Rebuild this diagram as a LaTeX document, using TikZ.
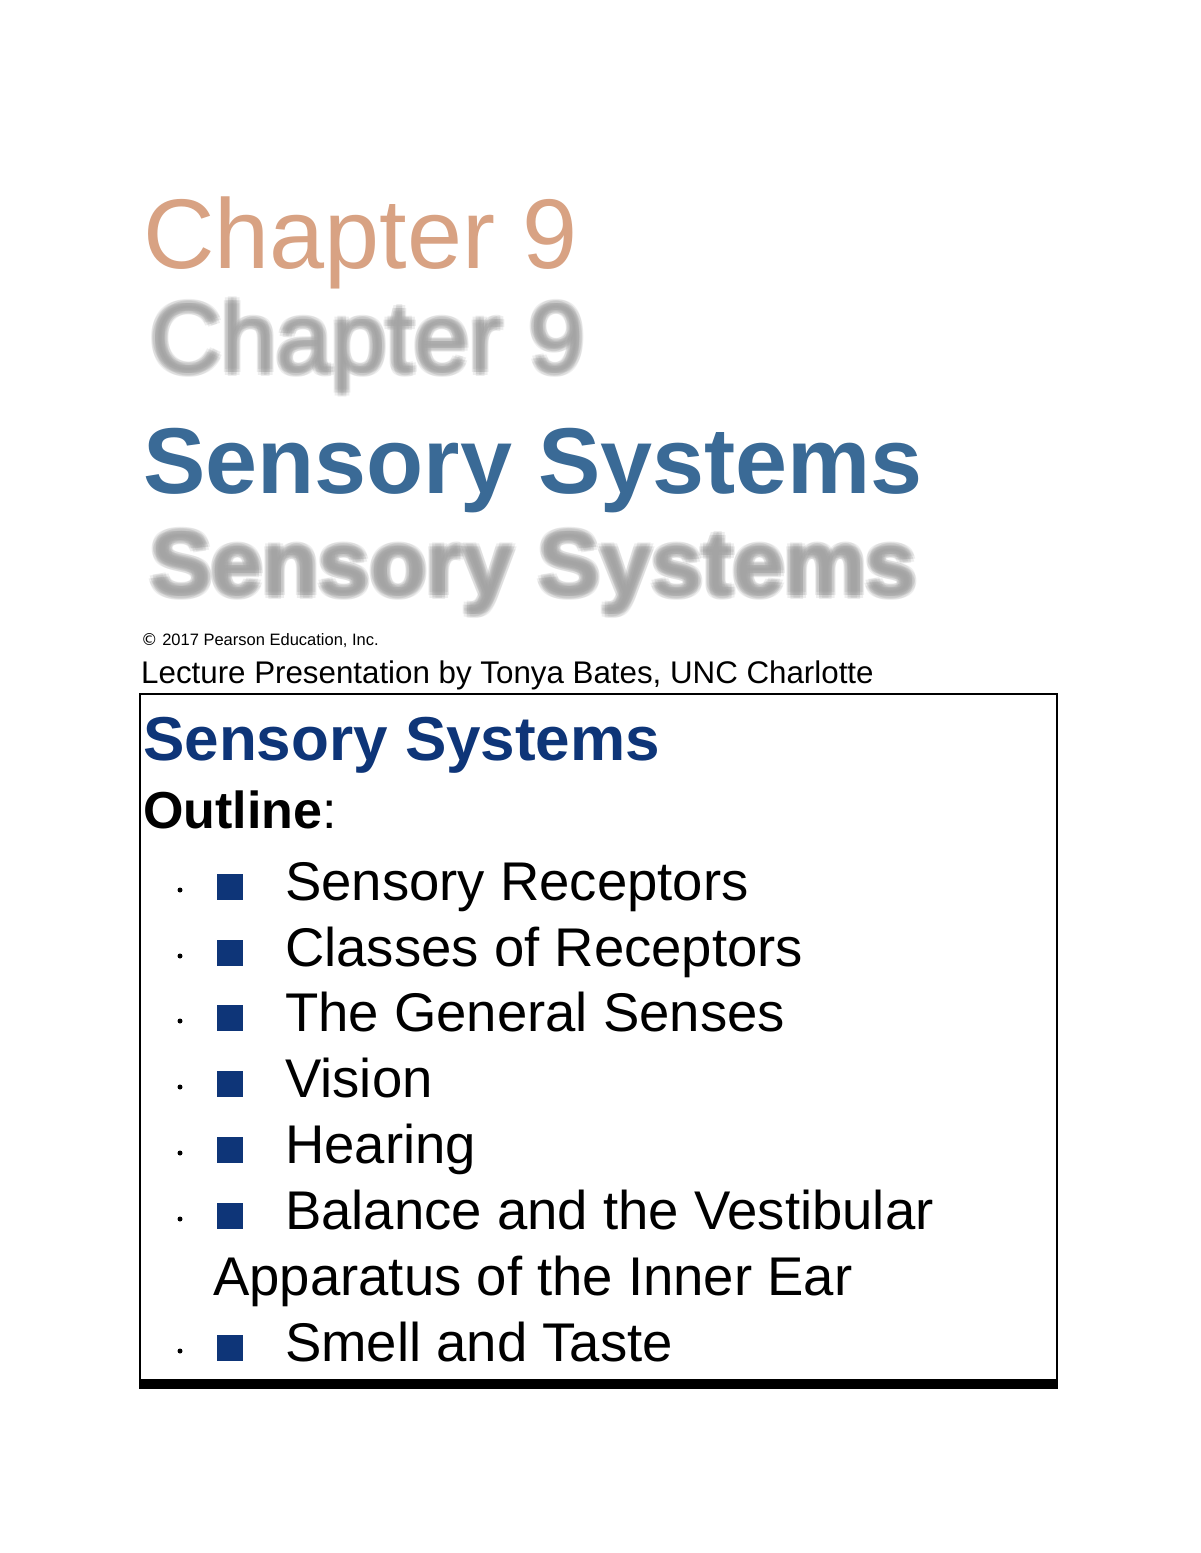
\documentclass[tikz,border=0pt]{standalone}
\usepackage{fontspec}
\setmainfont{Liberation Sans}
\newfontfamily\dv{DejaVu Sans}
\definecolor{tan}{HTML}{D8A283}
\definecolor{midblue}{HTML}{3A6A96}
\definecolor{navy}{HTML}{0E3578}
\begin{document}
\begin{tikzpicture}[x=1pt,y=-1pt,
  t/.style={anchor=base west,inner sep=0pt},
  blurtxt/.style={t,text=gray!75,opacity=0.18},
  item/.style={t,font=\fontsize{54.5}{54.5}\selectfont},
  sq/.style={fill=navy,minimum size=26pt,inner sep=0pt,anchor=south west},
  dot/.style={circle,fill=black,inner sep=0pt,minimum size=5pt}]
\useasboundingbox[fill=white] (0,0) rectangle (1200,1553);
\node[t,text=tan,font=\fontsize{99}{99}\selectfont] (c1) at (143,268) {Chapter 9};
\foreach \dx/\dy in {0/0,2/0,-2/0,0/2,0/-2,3/3,-3/-3,3/-3,-3/3,4/0,-4/0,0/4,0/-4}{
  \node[blurtxt,font=\fontsize{99}{99}\selectfont] at (150+\dx,372+\dy) {Chapter 9};
  \node[blurtxt,font=\bfseries\fontsize{92}{92}\selectfont] at (150+\dx,595+\dy) {Sensory Systems};}
\node[t,text=midblue,font=\bfseries\fontsize{93.5}{93.5}\selectfont] (s1) at (143,493) {Sensory Systems};
\node[t,font=\fontsize{16.5}{16.5}\selectfont] (cp) at (141,645) {{\dv©} 2017 Pearson Education, Inc.};
\node[t,font=\fontsize{31.3}{31.3}\selectfont] (lp) at (141,683) {Lecture Presentation by Tonya Bates, UNC Charlotte};
\draw[line width=2pt] (140,694) rectangle (1057,1384);
\fill (139,1379) rectangle (1058,1389);
\node[t,text=navy,font=\bfseries\fontsize{62}{62}\selectfont] (st) at (143,760) {Sensory Systems};
\node[t,font=\fontsize{52}{52}\selectfont] (ol) at (143,828) {\textbf{Outline}:};
\foreach \y/\s [count=\i] in {900/Sensory Receptors,966/Classes of Receptors,1031/The General Senses,1097/Vision,1163/Hearing,1229/Balance and the Vestibular,1361/Smell and Taste}{
  \node[dot] (d\i) at (180,\y-10) {};
  \node[sq] (q\i) at (217,\y) {};
  \node[item] (i\i) at (285,\y) {\s};}
\node[item] (ap) at (213,1295) {Apparatus of the Inner Ear};
\end{tikzpicture}
\end{document}
